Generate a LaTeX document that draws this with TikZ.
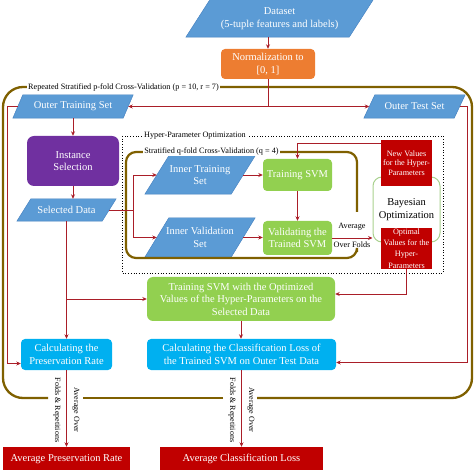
\documentclass[tikz,border=0pt]{standalone}
\usepackage{fontspec}
\setmainfont{Liberation Serif}
\usetikzlibrary{arrows.meta,backgrounds,calc}
\definecolor{pblue}{RGB}{91,155,213}
\definecolor{pblueb}{RGB}{65,125,190}
\definecolor{orng}{RGB}{237,125,49}
\definecolor{grn}{RGB}{146,208,80}
\definecolor{lgrn}{RGB}{169,209,142}
\definecolor{purp}{RGB}{112,48,160}
\definecolor{dred}{RGB}{192,0,0}
\definecolor{cyn}{RGB}{0,176,240}
\definecolor{olv}{RGB}{127,96,0}
\definecolor{arrc}{RGB}{170,30,40}
\newcommand\fmain{\fontsize{10.5}{12.5}\selectfont}
\newcommand\fsm{\fontsize{8.2}{9.6}\selectfont}
\newcommand\fsr{\fontsize{8}{11.6}\selectfont}
\newcommand\pgram[7]{%
  \node[ptext, minimum width=#4, minimum height=#5] (#1) at (#2,#3) {#7};
  \begin{scope}[on background layer]
    \filldraw[pshape] ([xshift=-#6/2]#1.south west) -- ([xshift=#6/2]#1.north west)
      -- ([xshift=#6/2]#1.north east) -- ([xshift=-#6/2]#1.south east) -- cycle;
  \end{scope}}
\begin{document}
\begin{tikzpicture}[x=1pt,y=-1pt,
  ptext/.style={inner sep=0pt, align=center, text=white, font=\fmain},
  pshape/.style={fill=pblue, draw=pblueb, line width=0.4pt},
  rbox/.style={rounded corners=4pt, inner sep=0pt, align=center, text=white, font=\fmain},
  redbox/.style={fill=dred, inner sep=0pt, align=center, text=white},
  frame/.style={draw=olv, line width=2.3pt, rounded corners=20pt},
  lbl/.style={fill=white, inner sep=1pt, font=\fsm},
  arr/.style={draw=arrc, line width=0.9pt, -{Stealth[length=4.5pt,width=4pt]}},
  ln/.style={draw=arrc, line width=0.9pt}]
\useasboundingbox (0,0) rectangle (474,470);
% outer frame
\draw[frame] (48,398) -- (3,398) -- (3,87) -- (472,87) -- (472,398) -- (257,398);
\draw[frame] (223,398) -- (83,398);
\node[lbl] (outlbl) at (123.5,87) {Repeated Stratified p-fold Cross-Validation (p = 10, r = 7)};
% hyper-parameter optimization dotted box
\draw[dotted, line width=0.7pt] (122,136) rectangle (443,273);
\node[lbl] (hpolbl) at (195,136) {Hyper-Parameter Optimization};
% inner frame
\draw[draw=olv, line width=2.2pt, rounded corners=10pt] (357,212) -- (357,152) -- (126,152) -- (126,258) -- (357,258) -- (357,252);
\node[lbl] (inlbl) at (211.5,151) {Stratified q-fold Cross-Validation (q = 4)};
% nodes
\pgram{dataset}{279.5}{18.5}{163}{37}{24}{Dataset\\(5-tuple features and labels)}
\node[rbox, fill=orng, minimum width=94, minimum height=30] (norm) at (268,64) {Normalization to\\{}[0, 1]};
\pgram{otrain}{73}{106.5}{110}{23}{10}{Outer Training Set}
\pgram{otest}{414.5}{106.5}{90}{23}{11}{Outer Test Set}
\node[rbox, rounded corners=7pt, fill=purp, minimum width=92, minimum height=50] (inst) at (73,161) {Instance\\Selection};
\pgram{sel}{66.5}{210}{85}{22}{14}{Selected Data}
\pgram{itrain}{200}{175}{86}{38}{24}{Inner Training\\Set}
\pgram{ival}{200}{237.5}{86}{39}{24}{Inner Validation\\Set}
\node[rbox, fill=grn, minimum width=69, minimum height=32] (tsvm) at (297.5,175) {Training SVM};
\node[rbox, fill=grn, minimum width=69, minimum height=34] (vsvm) at (297.5,238) {Validating the\\Trained SVM};
\node[draw=lgrn, line width=1pt, fill=white, rounded corners=9pt, minimum width=67, minimum height=65, align=center, font=\fmain, inner sep=0pt] (bayes) at (406.5,209.5) {Bayesian\\Optimization};
\node[redbox, font=\fsm, minimum width=51, minimum height=46] (newv) at (406.5,163) {New Values\\for the Hyper-\\Parameters};
\node[redbox, font=\fontsize{8.2}{11.3}\selectfont, minimum width=51, minimum height=41] (optv) at (406.5,248.5) {Optimal\\Values for the\\Hyper-\\Parameters};
\node[rbox, fill=grn, minimum width=188, minimum height=44, rounded corners=6pt] (tsvm2) at (241,299) {Training SVM with the Optimized\\Values of the Hyper-Parameters on the\\Selected Data};
\node[rbox, fill=cyn, minimum width=91, minimum height=31] (pres) at (66.5,354.5) {Calculating the\\Preservation Rate};
\node[rbox, fill=cyn, minimum width=189, minimum height=31] (loss) at (241.5,354.5) {Calculating the Classification Loss of\\the Trained SVM on Outer Test Data};
\node[redbox, font=\fmain, minimum width=127, minimum height=24] (avgp) at (66.5,459) {Average Preservation Rate};
\node[redbox, font=\fmain, minimum width=163, minimum height=24] (avgl) at (241.5,459) {Average Classification Loss};
% connectors
\draw[arr] (dataset.south -| norm.north) -- (norm.north);
\draw[arr] (norm.south) -- (norm.south |- otrain.east) -- (otrain.east);
\draw[arr] (norm.south |- otest.west) -- (otest.west);
\draw[arr] (otrain.west) -- (7,106.5) |- ([yshift=-9pt]pres.west);
\draw[arr] (otest.east) -- (467,106.5) |- ([yshift=-8pt]loss.east);
\draw[arr] (otrain.south -| inst.north) -- (inst.north);
\draw[arr] (inst.south) -- (inst.south |- sel.north);
\coordinate (sj) at (133,210);
\draw[ln] (sel.east) -- (sj);
\draw[arr] (sj) |- (itrain.west);
\draw[arr] (sj) |- (ival.west);
\draw[arr] (itrain.east) -- (tsvm.west);
\draw[arr] (ival.east) -- (ival.east -| vsvm.west);
\draw[arr] (tsvm.south) -- (vsvm.north);
\draw[arr] ([yshift=-4pt]newv.north west) -| (tsvm.north);
\draw[arr] (vsvm.east) -- (vsvm.east -| bayes.west);
\node[font=\fsm, inner sep=0pt] (avglbl) at (352,227) {Average};
\node[font=\fsm, inner sep=0pt] (ovflbl) at (352,245) {Over Folds};
\draw[arr] (optv.south) |- ([yshift=5pt]tsvm2.east);
\draw[arr] (sel.south) -- (pres.north);
\coordinate (bj) at (66.5,299);
\draw[arr] (bj) -- (tsvm2.west);
\draw[arr] (tsvm2.south) -- (tsvm2.south |- loss.north);
\draw[arr] (pres.south) -- (avgp.north);
\draw[arr] (loss.south) -- (loss.south |- avgl.north);
\node[font=\fsr, rotate=-90, inner sep=0pt] (fr1) at (57,410) {Folds \& Repetitions};
\node[font=\fsr, rotate=-90, inner sep=0pt] (ao1) at (76,410) {Average Over};
\node[font=\fsr, rotate=-90, inner sep=0pt] (fr2) at (232,410) {Folds \& Repetitions};
\node[font=\fsr, rotate=-90, inner sep=0pt] (ao2) at (251,410) {Average Over};
\end{tikzpicture}
\end{document}
